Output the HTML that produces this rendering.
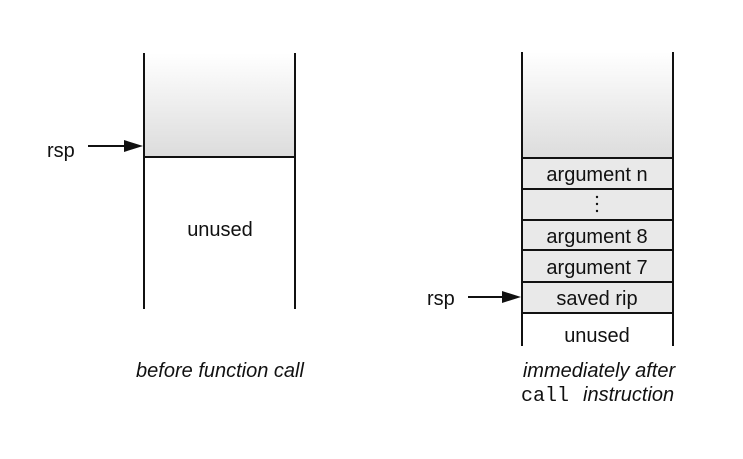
<!DOCTYPE html>
<html><head><style>
body{margin:0;background:#fff;}
svg text{font-family:"Liberation Sans",sans-serif;font-size:20px;fill:#111;}
</style></head><body>
<svg width="743" height="454" viewBox="0 0 743 454">
<defs>
<linearGradient id="g" x1="0" y1="0" x2="0" y2="1">
<stop offset="0" stop-color="#ffffff"/><stop offset="1" stop-color="#dcdcdc"/>
</linearGradient>
</defs>
<!-- left -->
<rect x="144" y="53" width="151" height="104" fill="url(#g)"/>
<g stroke="#111" stroke-width="2" fill="none">
<line x1="144" y1="53" x2="144" y2="309"/>
<line x1="295" y1="53" x2="295" y2="309"/>
<line x1="144" y1="157" x2="295" y2="157"/>
<line x1="88" y1="146" x2="126" y2="146"/>
</g>
<polygon points="124,140 143,146 124,152" fill="#111"/>
<text x="47" y="157">rsp</text>
<text x="220" y="236" text-anchor="middle">unused</text>
<text x="220" y="377" text-anchor="middle" font-style="italic">before function call</text>
<!-- right -->
<rect x="522" y="52" width="151" height="106" fill="url(#g)"/>
<rect x="522" y="158" width="151" height="155" fill="#e9e9e9"/>
<g stroke="#111" stroke-width="2" fill="none">
<line x1="522" y1="52" x2="522" y2="346"/>
<line x1="673" y1="52" x2="673" y2="346"/>
<line x1="522" y1="158" x2="673" y2="158"/>
<line x1="522" y1="189" x2="673" y2="189"/>
<line x1="522" y1="220" x2="673" y2="220"/>
<line x1="522" y1="250" x2="673" y2="250"/>
<line x1="522" y1="282" x2="673" y2="282"/>
<line x1="522" y1="313" x2="673" y2="313"/>
<line x1="468" y1="297" x2="504" y2="297"/>
</g>
<polygon points="502,291 521,297 502,303" fill="#111"/>
<text x="427" y="305">rsp</text>
<text x="597" y="181" text-anchor="middle">argument n</text>
<g fill="#111"><circle cx="597" cy="197" r="1.2"/><circle cx="597" cy="204" r="1.2"/><circle cx="597" cy="211" r="1.2"/></g>
<text x="597" y="243" text-anchor="middle">argument 8</text>
<text x="597" y="274" text-anchor="middle">argument 7</text>
<text x="597" y="305" text-anchor="middle">saved rip</text>
<text x="597" y="342" text-anchor="middle">unused</text>
<text x="599" y="377" text-anchor="middle" font-style="italic">immediately after</text>
<text x="521" y="401" style="font-family:'Liberation Mono',monospace;font-size:20px">call</text>
<text x="583" y="401" font-style="italic">instruction</text>
</svg>
</body></html>
